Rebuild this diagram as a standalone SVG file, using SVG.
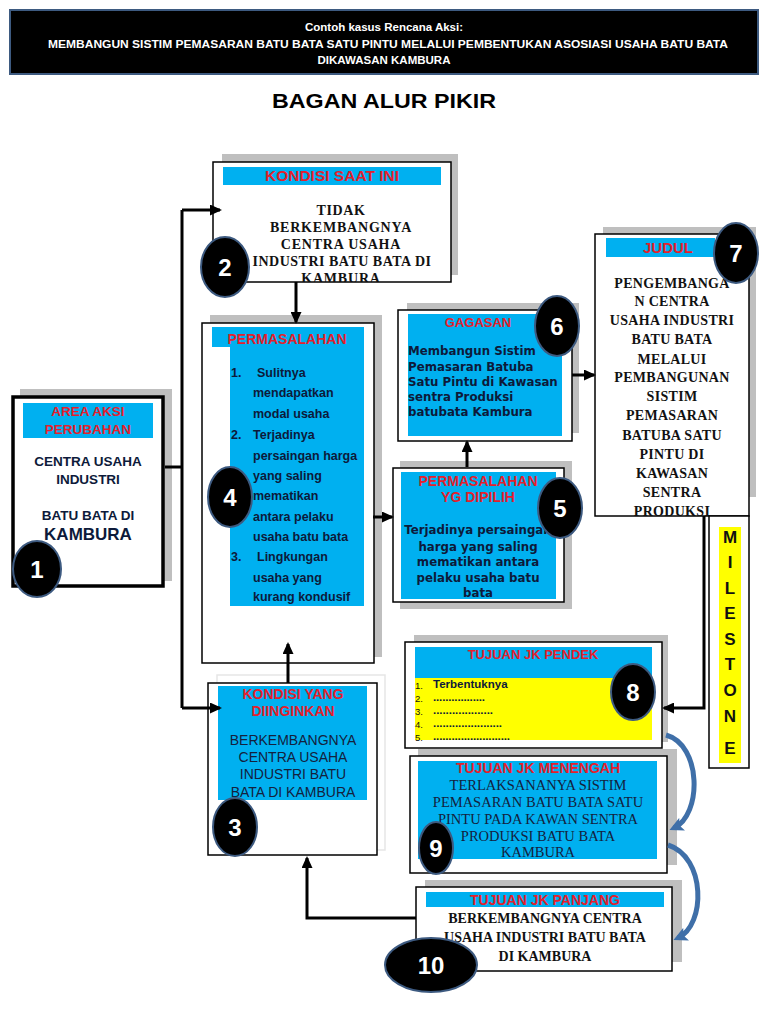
<svg xmlns="http://www.w3.org/2000/svg" width="768" height="1024" viewBox="0 0 768 1024">
<style>
.hdr{font-family:"Liberation Sans",Arial,sans-serif;font-weight:bold;font-size:11.5px;fill:#ffffff;text-anchor:middle}
.ttl{font-family:"Liberation Sans",Arial,sans-serif;font-weight:bold;fill:#e3202c;text-anchor:middle}
.shadow{fill:#bfbfbf}
.box{fill:#ffffff;stroke:#000000;stroke-width:1.5}
.blue{fill:#00b0f0}
.yellow{fill:#ffff00}
.num circle, .num ellipse{fill:#000000;stroke:#3d5a80;stroke-width:2}
.num text{font-family:"Liberation Sans",Arial,sans-serif;font-weight:bold;font-size:24px;fill:#ffffff;text-anchor:middle}
.serifb{font-family:"Liberation Serif","Times New Roman",serif;font-weight:bold;fill:#111111;text-anchor:middle}
.serif{font-family:"Liberation Serif","Times New Roman",serif;fill:#14213d;text-anchor:middle}
.sansb{font-family:"Liberation Sans",Arial,sans-serif;font-weight:bold;fill:#0d1a3a}
.verd{font-family:"DejaVu Sans",Verdana,sans-serif;font-weight:bold;font-size:11.8px;fill:#0d1a3a}
.conn{stroke:#000000;stroke-width:3;fill:none}
.curve{stroke:#3f6fa8;stroke-width:5;fill:none}
</style>
<defs>
<marker id="ah" markerWidth="12" markerHeight="11" refX="10" refY="5.5" orient="auto" markerUnits="userSpaceOnUse" viewBox="0 0 12 11">
<path d="M0,0 L12,5.5 L0,11 Z" fill="#000"/>
</marker>
<marker id="ab" markerWidth="14" markerHeight="14" refX="9" refY="7" orient="auto" markerUnits="userSpaceOnUse" viewBox="0 0 14 14">
<path d="M0,0 L14,7 L0,14 L3,7 Z" fill="#3f6fa8"/>
</marker>
<clipPath id="c2"><rect x="213" y="162" width="238" height="120"/></clipPath>
<clipPath id="c7"><rect x="595" y="234" width="154" height="282"/></clipPath>
</defs>

<g id="header">
<rect x="10" y="10" width="748" height="64" fill="#000000" stroke="#3d5a80" stroke-width="2"/>
<text class="hdr" x="384" y="31">Contoh kasus Rencana Aksi:</text>
<text class="hdr" x="388" y="48" textLength="680" lengthAdjust="spacingAndGlyphs">MEMBANGUN SISTIM PEMASARAN BATU BATA SATU PINTU MELALUI PEMBENTUKAN ASOSIASI USAHA BATU BATA</text>
<text class="hdr" x="384" y="64">DIKAWASAN KAMBURA</text>
</g>
<text x="384" y="108" font-family="Liberation Sans,Arial,sans-serif" font-weight="bold" font-size="21" text-anchor="middle" textLength="224" lengthAdjust="spacingAndGlyphs">BAGAN ALUR PIKIR</text>

<g id="node1">
<rect class="shadow" x="20" y="389" width="152" height="192"/>
<rect x="13" y="397" width="150" height="189" fill="#fff" stroke="#000" stroke-width="3.5"/>
<rect class="blue" x="23" y="403" width="130" height="35"/>
<text class="ttl" x="88" y="416" font-size="13.5">AREA AKSI</text>
<text class="ttl" x="88" y="434" font-size="13.5">PERUBAHAN</text>
<text class="sansb" x="88" y="466" font-size="13.5" text-anchor="middle" fill="#111">CENTRA USAHA</text>
<text class="sansb" x="88" y="484" font-size="13.5" text-anchor="middle" fill="#111">INDUSTRI</text>
<text class="sansb" x="88" y="520" font-size="13.5" text-anchor="middle" fill="#111">BATU BATA DI</text>
<text class="sansb" x="88" y="540" font-size="17" text-anchor="middle" fill="#111">KAMBURA</text>
<g class="num"><ellipse cx="37" cy="569" rx="24" ry="28"/><text x="37" y="578">1</text></g>
</g>

<g id="node2">
<rect class="shadow" x="222" y="154" width="236" height="121"/>
<rect class="box" x="213" y="162" width="238" height="120"/>
<rect class="blue" x="223" y="167" width="218" height="18"/>
<text class="ttl" x="332" y="181" font-size="15.5">KONDISI SAAT INI</text>
<g clip-path="url(#c2)">
<text class="serifb" x="341" y="215" font-size="14" letter-spacing="0.6">TIDAK</text>
<text class="serifb" x="341" y="232" font-size="14" letter-spacing="0.8">BERKEMBANGNYA</text>
<text class="serifb" x="341" y="249" font-size="14" letter-spacing="0.8">CENTRA USAHA</text>
<text class="serifb" x="342" y="266" font-size="14" letter-spacing="0.5">INDUSTRI BATU BATA DI</text>
<text class="serifb" x="341" y="283" font-size="14" letter-spacing="0.8">KAMBURA</text>
</g>
<g class="num"><ellipse cx="225" cy="267" rx="24" ry="30"/><text x="225" y="276">2</text></g>
</g>

<g id="node4">
<rect class="shadow" x="210" y="315" width="172" height="342"/>
<rect class="box" x="202" y="323" width="172" height="340"/>
<rect class="blue" x="212" y="327" width="152" height="20"/>
<rect class="blue" x="230" y="346" width="134" height="260"/>
<text class="ttl" x="287" y="344" font-size="14">PERMASALAHAN</text>
<g class="sansb" font-size="12.5">
<text x="231" y="377">1.</text><text x="257" y="377">Sulitnya</text>
<text x="253" y="397">mendapatkan</text>
<text x="253" y="418">modal usaha</text>
<text x="231" y="439">2.</text><text x="253" y="439">Terjadinya</text>
<text x="253" y="460">persaingan harga</text>
<text x="253" y="480">yang saling</text>
<text x="253" y="500">mematikan</text>
<text x="253" y="521">antara pelaku</text>
<text x="253" y="541">usaha batu bata</text>
<text x="231" y="561">3.</text><text x="257" y="561">Lingkungan</text>
<text x="253" y="582">usaha yang</text>
<text x="253" y="601">kurang kondusif</text>
</g>
<g class="num"><ellipse cx="230" cy="497" rx="22" ry="30"/><text x="230" y="506">4</text></g>
</g>

<g id="node3">
<rect x="217" y="675" width="168" height="175" fill="none" stroke="#e6e6e6" stroke-width="1.5"/>
<rect class="box" x="208" y="683" width="169" height="172"/>
<rect class="blue" x="218" y="686" width="149" height="114"/>
<text class="ttl" x="293" y="699" font-size="14">KONDISI YANG</text>
<text class="ttl" x="293" y="716" font-size="14">DIINGINKAN</text>
<g font-family="Liberation Sans,Arial,sans-serif" font-size="14" fill="#14213d" text-anchor="middle">
<text x="293" y="745">BERKEMBANGNYA</text>
<text x="293" y="762">CENTRA USAHA</text>
<text x="293" y="779">INDUSTRI BATU</text>
<text x="293" y="797">BATA DI KAMBURA</text>
</g>
<g class="num"><ellipse cx="235" cy="827" rx="22" ry="29"/><text x="235" y="836">3</text></g>
</g>

<g id="node6">
<rect class="shadow" x="407" y="303" width="172" height="130"/>
<rect class="box" x="398" y="310" width="174" height="131"/>
<rect class="blue" x="408" y="314" width="154" height="122"/>
<text class="ttl" x="478" y="327" font-size="13">GAGASAN</text>
<g class="verd">
<text x="408" y="355">Membangun Sistim</text>
<text x="408" y="371">Pemasaran Batuba</text>
<text x="408" y="386">Satu Pintu di Kawasan</text>
<text x="408" y="401">sentra Produksi</text>
<text x="408" y="416">batubata Kambura</text>
</g>
<g class="num"><ellipse cx="557" cy="326" rx="22" ry="30"/><text x="557" y="335">6</text></g>
</g>

<g id="node5">
<rect class="shadow" x="400" y="461" width="172" height="148"/>
<rect class="box" x="393" y="468" width="171" height="134"/>
<rect class="blue" x="401" y="472" width="155" height="127"/>
<text class="ttl" x="478" y="486" font-size="14">PERMASALAHAN</text>
<text class="ttl" x="478" y="502" font-size="14">YG DIPILIH</text>
<g class="verd" text-anchor="middle">
<text x="478" y="534">Terjadinya persaingan</text>
<text x="478" y="551">harga yang saling</text>
<text x="478" y="566">mematikan antara</text>
<text x="478" y="582">pelaku usaha batu</text>
<text x="478" y="597">bata</text>
</g>
<g class="num"><ellipse cx="560" cy="508" rx="22" ry="30"/><text x="560" y="517">5</text></g>
</g>

<g id="node7">
<rect class="shadow" x="603" y="227" width="153" height="270"/>
<rect class="box" x="595" y="234" width="154" height="282"/>
<rect class="blue" x="606" y="238" width="109" height="19"/>
<text class="ttl" x="668" y="253" font-size="15">JUDUL</text>
<g clip-path="url(#c7)" class="serifb" font-size="14" letter-spacing="0.3">
<text x="672" y="288">PENGEMBANGA</text>
<text x="672" y="306">N CENTRA</text>
<text x="672" y="325">USAHA INDUSTRI</text>
<text x="672" y="344">BATU BATA</text>
<text x="672" y="364">MELALUI</text>
<text x="672" y="382">PEMBANGUNAN</text>
<text x="672" y="401">SISTIM</text>
<text x="672" y="420">PEMASARAN</text>
<text x="672" y="440">BATUBA SATU</text>
<text x="672" y="459">PINTU DI</text>
<text x="672" y="478">KAWASAN</text>
<text x="672" y="497">SENTRA</text>
<text x="672" y="516">PRODUKSI</text>
</g>
<g class="num"><ellipse cx="736" cy="253" rx="22" ry="30"/><text x="736" y="262">7</text></g>
</g>

<g id="milestone">
<rect class="box" x="709" y="516" width="40" height="252"/>
<rect class="yellow" x="719" y="527" width="22" height="236"/>
<g font-family="Liberation Sans,Arial,sans-serif" font-weight="bold" font-size="17" fill="#111" text-anchor="middle">
<text x="730" y="543">M</text>
<text x="730" y="568">I</text>
<text x="730" y="594">L</text>
<text x="730" y="619">E</text>
<text x="730" y="645">S</text>
<text x="730" y="670">T</text>
<text x="730" y="696">O</text>
<text x="730" y="722">N</text>
<text x="730" y="754">E</text>
</g>
</g>

<g id="node8">
<rect class="shadow" x="414" y="635" width="254" height="107"/>
<rect class="box" x="405" y="642" width="257" height="106"/>
<rect class="blue" x="415" y="647" width="237" height="32"/>
<rect class="yellow" x="415" y="678" width="237" height="62"/>
<text class="ttl" x="533" y="659" font-size="13">TUJUAN JK PENDEK</text>
<g font-family="Liberation Sans,Arial,sans-serif" font-size="9.5" fill="#111">
<text x="415" y="689">1.</text>
<text x="415" y="702">2.</text>
<text x="415" y="715">3.</text>
<text x="415" y="728">4.</text>
<text x="415" y="741">5.</text>
</g>
<g class="sansb" font-size="11.5" fill="#111">
<text x="433" y="688">Terbentuknya</text>
<text x="433" y="701" textLength="52" lengthAdjust="spacing">.................</text>
<text x="433" y="714" textLength="60" lengthAdjust="spacing">...................</text>
<text x="433" y="727" textLength="69" lengthAdjust="spacing">......................</text>
<text x="433" y="740" textLength="77" lengthAdjust="spacing">.........................</text>
</g>
<g class="num"><ellipse cx="633" cy="692" rx="22" ry="28"/><text x="633" y="701">8</text></g>
</g>

<g id="node9">
<rect class="shadow" x="418" y="749" width="259" height="116"/>
<rect class="box" x="410" y="756" width="257" height="117"/>
<rect class="blue" x="418" y="761" width="239" height="98"/>
<text class="ttl" x="538" y="773" font-size="14">TUJUAN JK MENENGAH</text>
<g class="serif" font-size="14.5">
<text x="538" y="790">TERLAKSANANYA SISTIM</text>
<text x="538" y="807">PEMASARAN BATU BATA SATU</text>
<text x="538" y="824">PINTU PADA KAWAN SENTRA</text>
<text x="538" y="841">PRODUKSI BATU BATA</text>
<text x="538" y="857">KAMBURA</text>
</g>
<g class="num"><ellipse cx="436" cy="848" rx="17" ry="26"/><text x="436" y="857">9</text></g>
</g>

<g id="node10">
<rect class="shadow" x="425" y="880" width="257" height="82"/>
<rect class="box" x="416" y="887" width="256" height="84"/>
<rect class="blue" x="426" y="892" width="238" height="15"/>
<text class="ttl" x="545" y="905" font-size="14">TUJUAN JK PANJANG</text>
<g class="serifb" font-size="14">
<text x="545" y="923">BERKEMBANGNYA CENTRA</text>
<text x="545" y="942">USAHA INDUSTRI BATU BATA</text>
<text x="545" y="961">DI KAMBURA</text>
</g>
<g class="num"><ellipse cx="431" cy="965" rx="46" ry="27"/><text x="431" y="974">10</text></g>
</g>

<g id="connectors">
<path class="conn" d="M165,467 H182"/>
<path class="conn" d="M182,210 V708"/>
<path class="conn" d="M182,210 H220" marker-end="url(#ah)"/>
<path class="conn" d="M182,708 H220" marker-end="url(#ah)"/>
<path class="conn" d="M296,282 V322" marker-end="url(#ah)"/>
<path class="conn" d="M373,517 H392" marker-end="url(#ah)"/>
<path class="conn" d="M288,683 V644" marker-end="url(#ah)"/>
<path class="conn" d="M467,467 V442" marker-end="url(#ah)"/>
<path class="conn" d="M572,375 H594" marker-end="url(#ah)"/>
<path class="conn" d="M704,516 V708 H664" marker-end="url(#ah)"/>
<path class="conn" d="M416,918 H307 V858" marker-end="url(#ah)"/>
<path class="curve" d="M666,735 C702,745 702,815 674,828" marker-end="url(#ab)"/>
<path class="curve" d="M668,845 C706,857 706,925 678,938" marker-end="url(#ab)"/>
</g>
</svg>
